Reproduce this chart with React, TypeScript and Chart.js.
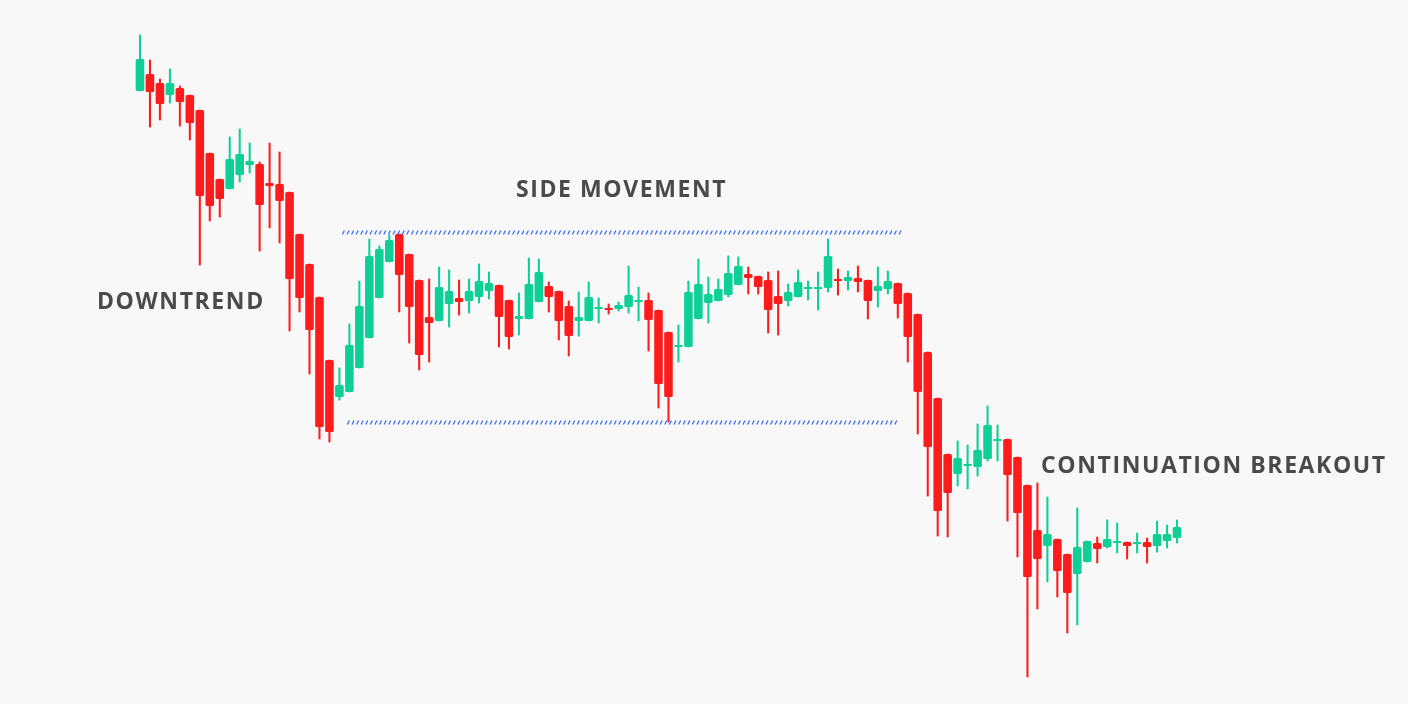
import { useEffect, useRef } from "react";
import { Chart, registerables } from "chart.js";

Chart.register(...registerables);

// price values (arbitrary units)
const opens = [
  609, 626, 617, 605, 612, 605, 590, 547, 521, 511,
  525, 535, 536, 517, 516, 508, 466, 436, 403, 340,
  303, 308, 332, 362, 402, 438, 466, 446, 420, 383,
  379, 396, 402, 399, 403, 409, 415, 400, 381, 381,
  398, 414, 409, 394, 379, 379, 391, 392, 391, 393,
  398, 400, 390, 368, 353, 353, 381, 397, 399, 405,
  415, 426, 424, 420, 404, 399, 403, 411, 411, 412,
  421, 419, 422, 420, 409, 411, 417, 407, 386, 348,
  302, 246, 226, 234, 233, 241, 259, 261, 243, 215,
  170, 154, 161, 146, 126, 138, 157, 153, 157, 158,
  156, 158, 154, 159, 162,
];
const highs = [
  665, 640, 621, 631, 614, 605, 590, 547, 521, 563,
  571, 557, 538, 557, 548, 508, 466, 436, 403, 340,
  332, 376, 419, 461, 454, 465, 466, 446, 420, 421,
  433, 430, 420, 421, 436, 428, 415, 400, 407, 442,
  441, 418, 409, 399, 408, 418, 402, 396, 398, 434,
  413, 407, 390, 368, 375, 419, 441, 423, 421, 444,
  443, 433, 424, 428, 429, 416, 430, 419, 428, 461,
  431, 429, 434, 420, 433, 429, 417, 407, 386, 348,
  302, 246, 259, 255, 276, 294, 275, 261, 243, 215,
  217, 203, 161, 146, 192, 159, 163, 180, 177, 158,
  167, 162, 179, 175, 180,
];
const lows = [
  609, 573, 580, 597, 574, 560, 435, 479, 483, 511,
  518, 527, 449, 472, 457, 369, 388, 326, 261, 258,
  300, 308, 332, 362, 402, 438, 388, 357, 330, 338,
  379, 373, 385, 387, 397, 401, 353, 351, 365, 381,
  398, 388, 360, 344, 364, 379, 377, 386, 389, 387,
  379, 349, 292, 278, 338, 353, 381, 377, 399, 403,
  415, 406, 406, 367, 365, 394, 403, 400, 390, 408,
  405, 410, 408, 381, 393, 406, 382, 338, 266, 204,
  164, 163, 214, 211, 224, 239, 239, 179, 143, 23,
  91, 118, 103, 67, 75, 138, 137, 152, 147, 141,
  147, 137, 148, 152, 157,
];
const closes = [
  641, 608, 596, 617, 598, 577, 504, 494, 501, 541,
  546, 539, 495, 514, 499, 421, 402, 370, 273, 268,
  315, 355, 394, 444, 451, 460, 425, 393, 345, 377,
  413, 409, 398, 409, 419, 417, 383, 363, 384, 416,
  428, 403, 379, 364, 383, 403, 393, 390, 395, 405,
  400, 380, 316, 303, 355, 408, 416, 406, 411, 427,
  434, 422, 413, 390, 396, 408, 418, 413, 413, 444,
  419, 423, 418, 399, 414, 419, 396, 363, 308, 253,
  189, 207, 242, 236, 250, 275, 261, 225, 187, 123,
  141, 166, 129, 107, 153, 159, 151, 161, 159, 154,
  158, 153, 166, 166, 173,
];

// range lines of the side movement: [price, from candle, to candle]
const rangeLines = [
  [467.5, 20.3, 76.3],
  [277.5, 20.8, 76.0],
];

// labels: [text, candle position, price]
const labels: [string, number, number][] = [
  ["DOWNTREND", 4.1, 397.5],
  ["SIDE MOVEMENT", 48.3, 510],
  ["CONTINUATION BREAKOUT", 107.7, 234],
];

const UP = "#0ecf96";
const DOWN = "#fe1b1b";

const overlayPlugin = {
  id: "overlay",
  afterDatasetsDraw(chart: Chart) {
    const ctx = chart.ctx;
    const xs = chart.scales.x;
    const ys = chart.scales.y;
    const x0 = xs.getPixelForValue(0);
    const step = xs.getPixelForValue(1) - x0;
    const px = (i: number) => x0 + i * step;

    ctx.save();
    ctx.strokeStyle = "#3d6ef2";
    ctx.lineWidth = 1.3;
    rangeLines.forEach(([price, a, b]) => {
      const y = ys.getPixelForValue(price);
      ctx.beginPath();
      for (let x = px(a); x < px(b); x += 4.6) {
        ctx.moveTo(x, y + 2);
        ctx.lineTo(x + 2, y - 2);
      }
      ctx.stroke();
    });

    ctx.fillStyle = "#4a4a4a";
    ctx.font = "bold 23px 'Open Sans'";
    (ctx as any).letterSpacing = "1.6px";
    ctx.textAlign = "center";
    ctx.textBaseline = "middle";
    labels.forEach(([text, i, price]) => {
      ctx.fillText(text, px(i), ys.getPixelForValue(price));
    });
    ctx.restore();
  },
};

export default function App() {
  const chartRef = useRef<HTMLCanvasElement>(null);
  const chartInstance = useRef<Chart | null>(null);

  useEffect(() => {
    if (!chartRef.current) return;
    if (chartInstance.current) chartInstance.current.destroy();
    const ctx = chartRef.current.getContext("2d");
    if (!ctx) return;

    const colors = opens.map((o, i) => (closes[i] >= o ? UP : DOWN));

    chartInstance.current = new Chart(ctx, {
      type: "bar",
      data: {
        labels: opens.map((_, i) => String(i + 1)),
        datasets: [
          {
            label: "Body",
            data: opens.map((o, i) => [o, closes[i]]) as any,
            backgroundColor: colors,
            barPercentage: 0.86,
            categoryPercentage: 1,
            borderRadius: 1.5,
            borderSkipped: false,
            grouped: false,
            minBarLength: 2,
          },
          {
            label: "Wick",
            data: lows.map((l, i) => [l, highs[i]]) as any,
            backgroundColor: colors,
            barThickness: 1.4,
            grouped: false,
          },
        ],
      },
      options: {
        animation: false,
        responsive: true,
        maintainAspectRatio: false,
        layout: { padding: { left: 135, right: 226, top: 0, bottom: 0 } },
        plugins: {
          legend: { display: false },
          tooltip: { enabled: false },
        },
        scales: {
          x: { display: false, offset: true },
          y: { display: false, min: -4, max: 700 },
        },
      },
      plugins: [overlayPlugin],
    });

    return () => {
      if (chartInstance.current) {
        chartInstance.current.destroy();
        chartInstance.current = null;
      }
    };
  }, []);

  return (
    <div style={{ position: "fixed", inset: 0, background: "#f8f8f8" }}>
      <canvas ref={chartRef}></canvas>
    </div>
  );
}
